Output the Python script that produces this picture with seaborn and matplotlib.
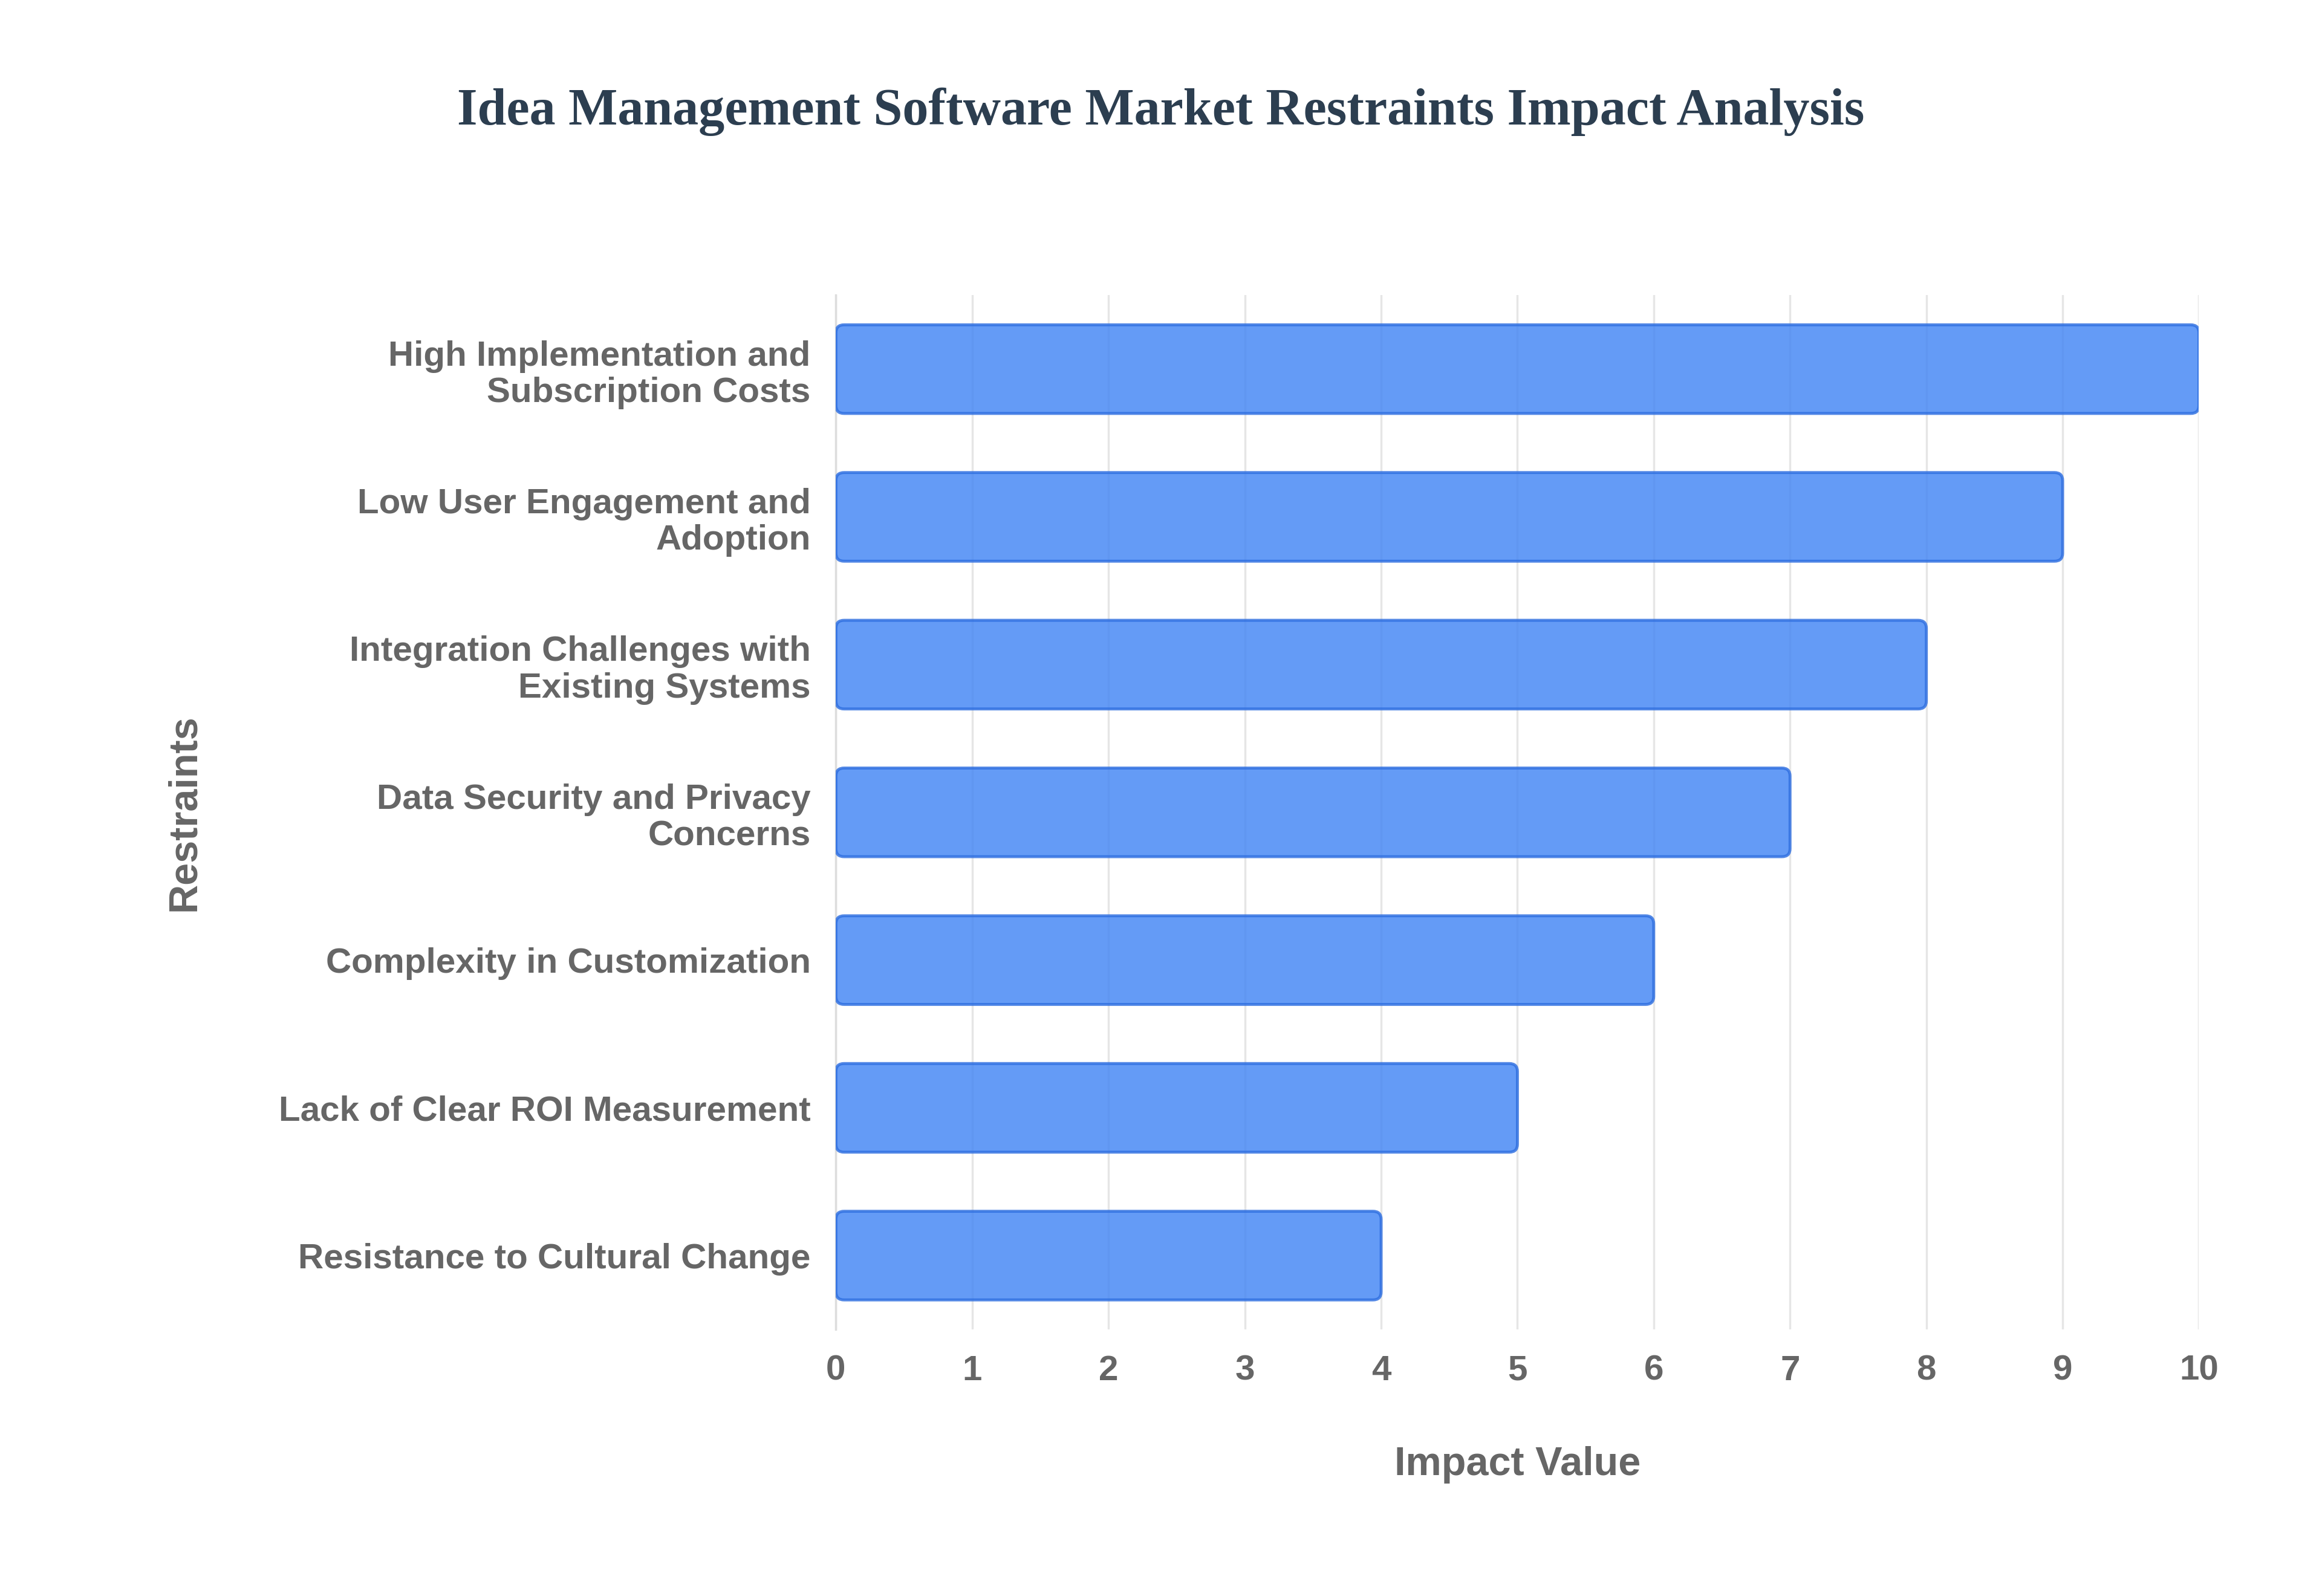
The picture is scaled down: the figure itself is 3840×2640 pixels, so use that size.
import seaborn as sns
import matplotlib.pyplot as plt
import pandas as pd
from matplotlib.patches import FancyBboxPatch

restraints = [
    "High Implementation and\nSubscription Costs",
    "Low User Engagement and\nAdoption",
    "Integration Challenges with\nExisting Systems",
    "Data Security and Privacy\nConcerns",
    "Complexity in Customization",
    "Lack of Clear ROI Measurement",
    "Resistance to Cultural Change",
]
impact = [10, 9, 8, 7, 6, 5, 4]

df = pd.DataFrame({"Restraints": restraints, "Impact Value": impact})

sns.set_style("white")
plt.rcParams['font.family'] = ['Liberation Sans', 'DejaVu Sans']

fig = plt.figure(figsize=(38.4, 26.4), dpi=100)
ax = fig.add_axes([0.36, 0.167, 0.587, 0.648])

sns.barplot(data=df, x="Impact Value", y="Restraints", orient="h",
            width=0.6, color="#4285f4", ax=ax)

# swap plain bars for rounded ones
for p in list(ax.patches):
    x, y = p.get_x(), p.get_y()
    w, h = p.get_width(), p.get_height()
    rb = FancyBboxPatch((x, y), w, h, boxstyle="round,pad=0,rounding_size=0.06",
                        mutation_aspect=0.9, facecolor="#4285f4", alpha=0.82,
                        edgecolor="#2f6fe0", linewidth=3.5, zorder=3)
    ax.add_patch(rb)
    p.remove()

ax.set_xlim(0, 10)
ax.set_ylim(6.5, -0.5)
ax.set_xticks(range(0, 11))
ax.grid(axis="x", color="#e6e6e6", linewidth=2.5, zorder=0)
ax.set_axisbelow(True)
for s in ["top", "right", "bottom"]:
    ax.spines[s].set_visible(False)
ax.spines["left"].set_color("#dddddd")
ax.spines["left"].set_linewidth(2.5)
ax.tick_params(axis="both", length=0, pad=30, labelsize=42, labelcolor="#666666")
for lab in ax.get_xticklabels() + ax.get_yticklabels():
    lab.set_fontweight("bold")
    lab.set_linespacing(1.15)

ax.set_xlabel("Impact Value", fontsize=48, fontweight="bold", color="#666666", labelpad=70)
ax.set_ylabel("Restraints", fontsize=48, fontweight="bold", color="#666666", labelpad=90)

fig.suptitle("Idea Management Software Market Restraints Impact Analysis",
             x=0.5, y=0.945, fontsize=62, fontweight="bold", color="#2c3e50",
             family=["Liberation Serif", "DejaVu Serif"])

fig.savefig("out.png", dpi=100, facecolor="white")
